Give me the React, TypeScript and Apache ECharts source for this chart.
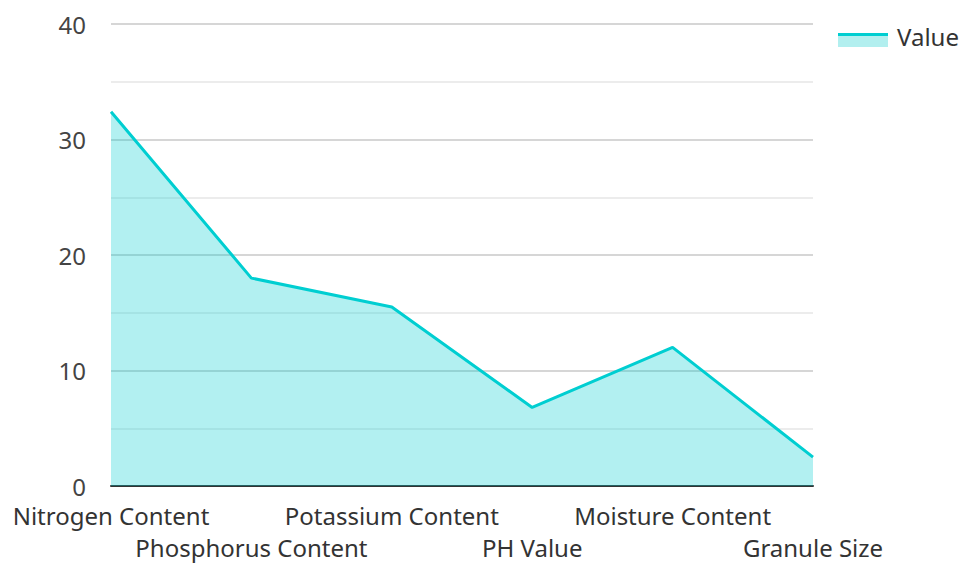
import React, { useEffect, useRef } from "react";
import * as echarts from "echarts";

const categories = [
  "Nitrogen Content",
  "Phosphorus Content",
  "Potassium Content",
  "PH Value",
  "Moisture Content",
  "Granule Size",
];
const values = [32.4, 18.0, 15.5, 6.8, 12.0, 2.5];
const seriesName = "Value";

export default function App() {
  const ref = useRef<HTMLDivElement>(null);
  useEffect(() => {
    if (!ref.current) return;
    const chart = echarts.init(ref.current, null, { renderer: "svg", width: 962, height: 563 });
    chart.setOption({
      animation: false,
      textStyle: { fontFamily: "Noto Sans" },
      graphic: [
        { type: "rect", shape: { x: 838, y: 33, width: 50, height: 14 }, style: { fill: "#b2efef" } },
        { type: "line", shape: { x1: 838, y1: 34.5, x2: 888, y2: 34.5 }, style: { stroke: "#00CED1", lineWidth: 3 } },
        {
          type: "text",
          x: 897,
          y: 36,
          style: { text: seriesName, fontSize: 24, fill: "#333", fontFamily: "Noto Sans", verticalAlign: "middle", align: "left" },
        },
      ],
      grid: { left: 111, width: 702, top: 24, height: 467, containLabel: false },
      xAxis: {
        type: "category",
        data: categories,
        boundaryGap: false,
        axisLine: { lineStyle: { color: "#333", width: 2 } },
        axisTick: { show: false },
        axisLabel: {
          interval: 0,
          fontSize: 24,
          color: "#333",
          margin: 13,
          lineHeight: 32,
          formatter: (v: string, i: number) => (i % 2 === 1 ? "\n" + v : v),
        },
      },
      yAxis: {
        type: "value",
        min: 0,
        max: 40,
        interval: 10,
        axisLine: { show: false },
        axisTick: { show: false },
        axisLabel: { fontSize: 24, color: "#444", margin: 25 },
        splitLine: { lineStyle: { color: "#c8c8c8", width: 1.5 } },
        minorTick: { show: false, splitNumber: 2 },
        minorSplitLine: { show: true, lineStyle: { color: "#e6e6e6", width: 1.5 } },
      },
      series: [
        {
          name: seriesName,
          type: "line",
          data: values,
          symbol: "none",
          lineStyle: { color: "#00CED1", width: 3 },
          itemStyle: { color: "#00CED1" },
          areaStyle: { color: "#00CED1", opacity: 0.3 },
        },
      ],
    });
    return () => chart.dispose();
  }, []);
  return <div ref={ref} style={{ width: 962, height: 563, position: "absolute", left: 0, top: 0 }} />;
}
